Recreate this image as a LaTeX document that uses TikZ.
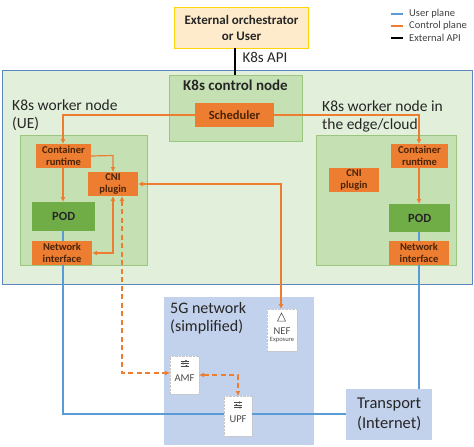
\documentclass[tikz,border=0pt]{standalone}
\usepackage{fontspec}
\setmainfont{Carlito}
\usetikzlibrary{arrows.meta,calc}
\definecolor{ublue}{HTML}{5B9BD5}
\definecolor{corange}{HTML}{ED7D31}
\definecolor{lgreen}{HTML}{E2EFDA}
\definecolor{mgreen}{HTML}{C5E0B3}
\definecolor{dgreen}{HTML}{70AD47}
\definecolor{fgblue}{HTML}{C2D1EC}
\definecolor{brownt}{HTML}{4A2408}
\definecolor{outerb}{HTML}{5B86C0}
\tikzset{
  orangebox/.style={fill=corange,text=brownt,font=\fontsize{10.5}{12.5}\selectfont\bfseries,align=center,inner sep=0,outer sep=0,anchor=north west},
  whitebox/.style={fill=white,draw=gray!45,densely dotted,line width=.4pt,inner sep=0,outer sep=0,anchor=north west},
  greenbox/.style={draw=dgreen!70,fill=mgreen,line width=1pt,inner sep=0,anchor=north west},
  podbox/.style={fill=dgreen,inner sep=0,anchor=north west,font=\fontsize{12.5}{14}\selectfont\bfseries,text=black!85},
  title/.style={font=\fontsize{15.5}{18}\selectfont,align=left,anchor=north west,inner sep=0,text=black!85},
  small/.style={font=\fontsize{10.5}{12}\selectfont,text=black!70,inner sep=0},
  legend/.style={font=\fontsize{10.5}{12}\selectfont,anchor=west,inner sep=0,text=black!75},
  uline/.style={draw=ublue,line width=1.8pt},
  cline/.style={draw=corange,line width=1.2pt,-{Latex[length=5pt,width=5pt]}},
  cboth/.style={cline,{Latex[length=5pt,width=5pt]}-{Latex[length=5pt,width=5pt]}},
  cdash/.style={cboth,dash pattern=on 5pt off 3.5pt},
}
\begin{document}
\begin{tikzpicture}[x=1pt,y=-1pt]
\useasboundingbox (0,0) rectangle (474,447);
\fill[white] (0,0) rectangle (474,447);
% outer
\node[draw=outerb,fill=lgreen,line width=1.2pt,minimum width=470pt,minimum height=214pt,anchor=north west,inner sep=0] (outer) at (2,70) {};
\node[greenbox,minimum width=133pt,minimum height=66pt] (ctrl) at (169,75) {};
\node[greenbox,minimum width=127pt,minimum height=130pt] (wl) at (20,135) {};
\node[greenbox,minimum width=140pt,minimum height=130pt] (wr) at (316,135) {};
% 5G and transport
\node[fill=fgblue,minimum width=150pt,minimum height=148pt,anchor=north west,inner sep=0] (fiveg) at (164,297) {};
\node[fill=fgblue,minimum width=86pt,minimum height=51pt,anchor=north west,inner sep=0,align=center,font=\fontsize{16.5}{20}\selectfont,text=black!85] (transport) at (346,389) {Transport\\(Internet)};
% external
\node[draw=yellow!75!orange,fill=yellow!22!orange!18!white,line width=1.2pt,minimum width=134pt,minimum height=41pt,anchor=north west,inner sep=0,align=center,font=\fontsize{13}{15.5}\selectfont\bfseries,text=black!85] (ext) at (174,7) {External orchestrator\\or User};
% titles
\node[title,font=\fontsize{15}{18}\selectfont] (tctrl) at (183,79.5) {\textbf{K8s control node}};
\node[title] (tl) at (12,100) {K8s worker node\\(UE)};
\node[title] (tr) at (322,101) {K8s worker node in\\the edge/cloud};
\node[title,font=\fontsize{16}{18}\selectfont] (t5g) at (170,302) {5G network\\(simplified)};
\node[font=\fontsize{15}{17}\selectfont,anchor=center,inner sep=0,text=black!85] (api) at (265,57) {K8s API};
% orange boxes
\node[orangebox,minimum width=79pt,minimum height=24pt,font=\fontsize{12.5}{14}\selectfont\bfseries] (sched) at (195,103) {Scheduler};
\node[orangebox,minimum width=55pt,minimum height=24pt] (crl) at (36,144) {Container\\runtime};
\node[orangebox,minimum width=50pt,minimum height=24pt] (cnil) at (88,172) {CNI\\plugin};
\node[orangebox,minimum width=60pt,minimum height=24pt] (netl) at (32,241) {Network\\interface};
\node[orangebox,minimum width=57pt,minimum height=24pt] (crr) at (391,144) {Container\\runtime};
\node[orangebox,minimum width=50pt,minimum height=24pt] (cnir) at (329,168) {CNI\\plugin};
\node[orangebox,minimum width=60pt,minimum height=24pt] (netr) at (389,241) {Network\\interface};
% PODs
\node[podbox,minimum width=63pt,minimum height=29pt] (podl) at (32,202) {POD};
\node[podbox,minimum width=61pt,minimum height=28pt] (podr) at (389,204) {POD};
% 5G functions
\node[whitebox,minimum width=28pt,minimum height=40pt] (upf) at (224,396) {};
\node[whitebox,minimum width=29pt,minimum height=38pt] (amf) at (170,356) {};
\node[whitebox,minimum width=30pt,minimum height=42pt] (nef) at (267,309) {};
\node[small] (lupf) at (238,419) {UPF};
\node[small] (lamf) at (184.5,378) {AMF};
\node[small] (lnef) at (282,331) {NEF};
\node[small,font=\fontsize{6.5}{7}\selectfont] (lexp) at (282,340) {Exposure};
\draw[black!70,line width=.5pt] (281.5,313) -- (285.5,321) -- (277.5,321) -- cycle;
% slider icons
\foreach \cx/\cy in {184.5/363.5,238/405}{
  \draw[black!70,line width=.6pt] (\cx-4,\cy-2.5) -- (\cx+4,\cy-2.5) (\cx-4,\cy) -- (\cx+4,\cy) (\cx-4,\cy+2.5) -- (\cx+4,\cy+2.5);
  \fill[black!70] (\cx+1.5,\cy-2.5) circle (1.1pt) (\cx-1.5,\cy) circle (1.1pt) (\cx+2,\cy+2.5) circle (1.1pt);
}
% user plane
\coordinate (bl) at (63,414);
\draw[uline] (63,231) -- (63,241);
\draw[uline] (63,265) -- (bl) -- (upf.west |- bl);
\draw[uline] (upf.east |- bl) -- (transport.west |- bl);
\draw[uline] (419,232) -- (419,241);
\draw[uline] (419,265) -- (419,389);
% external API
\draw[black,line width=1.4pt] (235,48) -- (235,75);
% control plane
\draw[cline] (sched.west) -- (63,115) -- (63,144);
\draw[cline] (sched.east) -- (419,115) -- (419,144);
\draw[cline] (63,168) -- (63,202);
\draw[cline] (419,168) -- (419,204);
\draw[cline] (crl.east) -- (113,155.5) -- (113,172);
\draw[cboth] (113,196) -- (113,253) -- (netl.east |- 0,253);
\draw[cboth] (cnil.east) -- (281,184) -- (281,309);
\draw[cdash] (122,196) -- (122,373) -- (amf.west |- 0,373);
\draw[cdash] (amf.east |- 0,375) -- (238,375) -- (upf.north);
% legend
\draw[ublue,line width=1.4pt] (391,14) -- (403,14);
\draw[corange,line width=1.4pt] (391,26) -- (403,26);
\draw[black,line width=1.4pt] (391,38) -- (403,38);
\node[legend] (l1) at (409,13.5) {User plane};
\node[legend] (l2) at (409,26) {Control plane};
\node[legend] (l3) at (409,38) {External API};
\end{tikzpicture}
\end{document}
